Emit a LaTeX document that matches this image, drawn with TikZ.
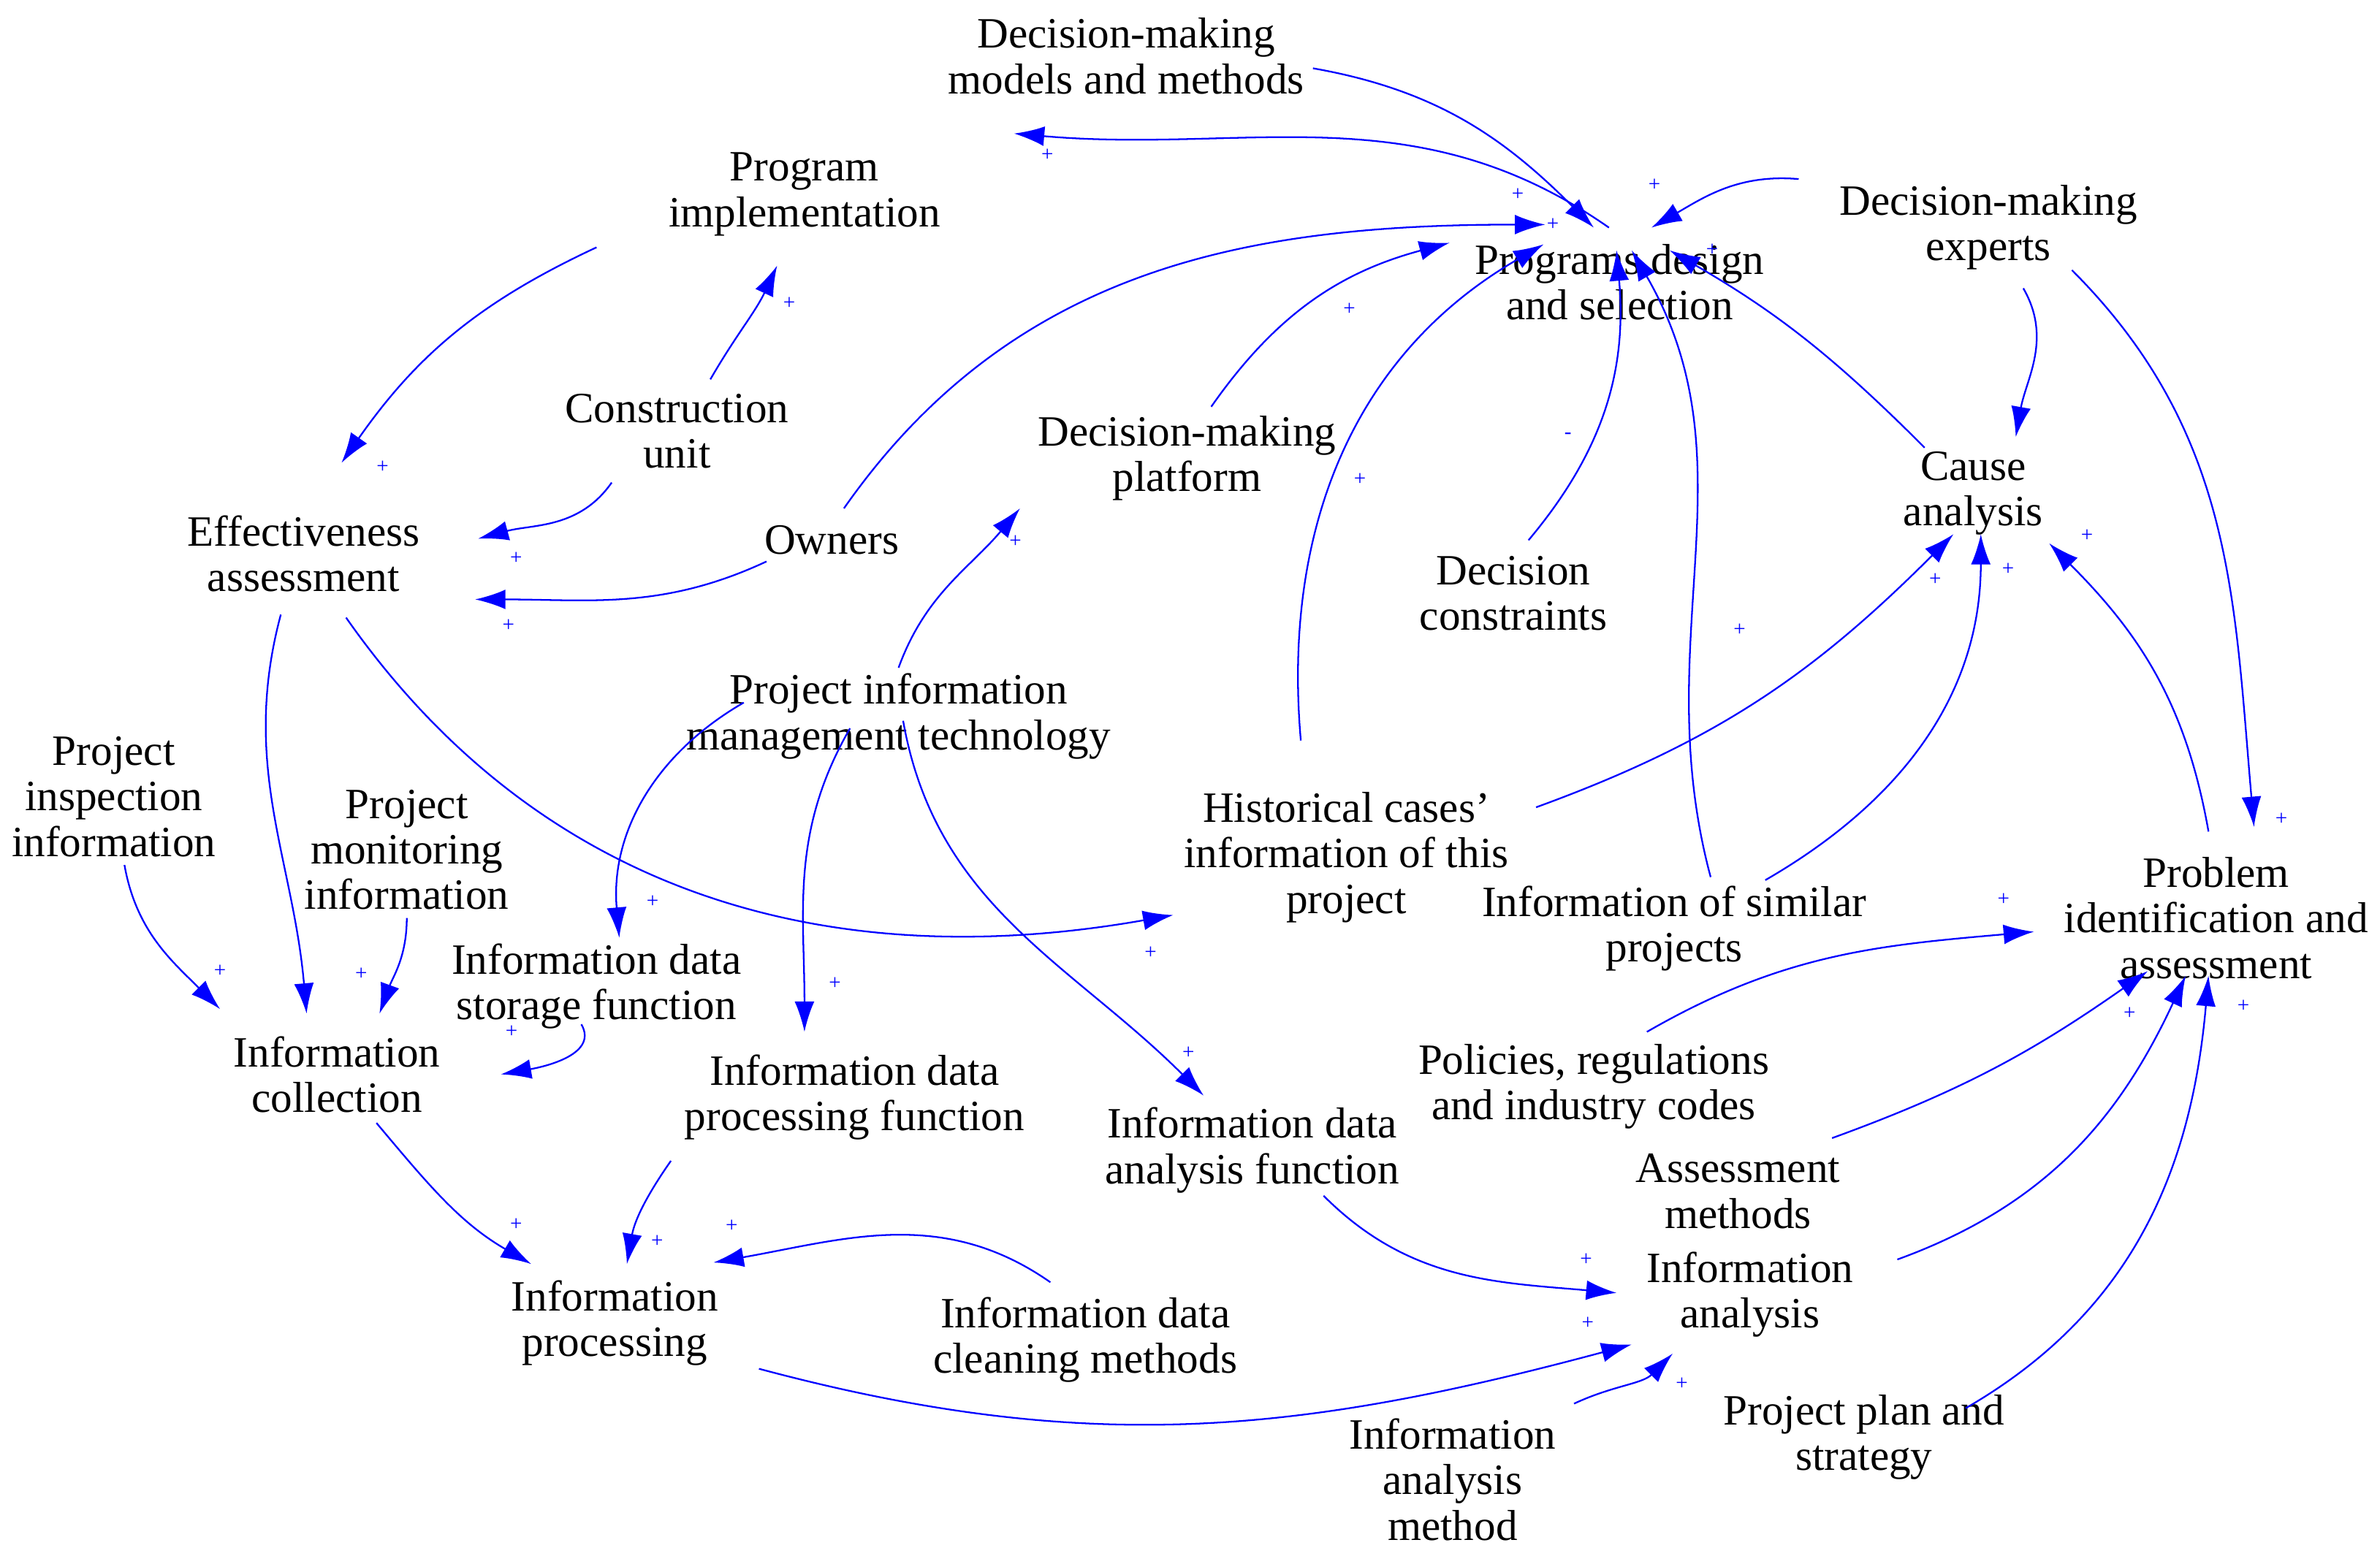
\documentclass[tikz,border=0pt]{standalone}
\usepackage{fontspec}
\setmainfont{Liberation Serif}
\usetikzlibrary{arrows.meta}
\definecolor{lb}{RGB}{0,0,255}
\newcommand{\ed}[6]{\draw[e] ([shift={#2}]#1.center) to[#3] ([shift={#5}]#4.center);}
\begin{document}
\begin{tikzpicture}[x=1pt,y=1pt,
  v/.style={align=center,inner sep=2pt,font=\fontsize{28.5}{30}\selectfont},
  e/.style={draw=lb,line width=1.1pt,-{Latex[length=20pt,width=13pt]}},
  plus/.style={text=lb,font=\fontsize{14}{14}\selectfont,inner sep=0pt}]
\useasboundingbox (0,0) rectangle (1568,-1020);
\node[v] (dmm) at (742,-37) {Decision-making\\models and methods};
\node[v] (pi) at (530,-128) {Program\\implementation};
\node[v] (pds) at (1067,-186) {Programs design\\and selection};
\node[v] (dme) at (1310,-150) {Decision-making\\experts};
\node[v] (cu) at (446,-284) {Construction\\unit};
\node[v] (dmp) at (782,-302) {Decision-making\\platform};
\node[v] (ea) at (200,-365) {Effectiveness\\assessment};
\node[v] (own) at (548,-356) {Owners};
\node[v] (ca) at (1300,-325) {Cause\\analysis};
\node[v] (dc) at (997,-391) {Decision\\constraints};
\node[v] (pimt) at (592,-472) {Project information\\management technology};
\node[v] (pii) at (75,-525) {Project\\inspection\\information};
\node[v] (pmi) at (268,-560) {Project\\monitoring\\information};
\node[v] (hc) at (887,-565) {Historical cases'\\information of this\\project};
\node[v] (isp) at (1103,-612) {Information of similar\\projects};
\node[v] (pia) at (1460,-605) {Problem\\identification and\\assessment};
\node[v] (ids) at (393,-650) {Information data\\storage function};
\node[v] (ic) at (222,-708) {Information\\collection};
\node[v] (idp) at (563,-723) {Information data\\processing function};
\node[v] (prc) at (1050,-716) {Policies, regulations\\and industry codes};
\node[v] (ida) at (825,-758) {Information data\\analysis function};
\node[v] (am) at (1145,-785) {Assessment\\methods};
\node[v] (ia) at (1153,-853) {Information\\analysis};
\node[v] (ip) at (405,-872) {Information\\processing};
\node[v] (idc) at (715,-883) {Information data\\cleaning methods};
\node[v] (iam) at (957,-975) {Information\\analysis\\method};
\node[v] (pps) at (1228,-947) {Project plan and\\strategy};

\ed{dmm}{(123,-8)}{out=-10,in=135}{pds}{(-17,36)}{}
\ed{pds}{(-7,36)}{out=145,in=-5}{dmm}{(-74,-51)}{}
\ed{dme}{(-125,32)}{out=175,in=30}{pds}{(21,36)}{}
\ed{pi}{(-137,-35)}{out=205,in=55}{ea}{(25,60)}{}
\ed{cu}{(22,34)}{out=60,in=-115}{pi}{(-18,-47)}{}
\ed{cu}{(-43,-34)}{out=-125,in=15}{ea}{(115,10)}{}
\ed{own}{(8,21)}{out=55,in=180}{pds}{(-49,38)}{}
\ed{own}{(-43,-14)}{out=-155,in=0}{ea}{(113,-30)}{}
\ed{dmp}{(16,34)}{out=55,in=195}{pds}{(-112,26)}{}
\ed{hc}{(-30,77)}{out=95,in=-150}{pds}{(-50,25)}{}
\ed{dc}{(10,35)}{out=50,in=-85}{pds}{(-2,21)}{}
\ed{isp}{(24,34)}{out=105,in=-60}{pds}{(8,21)}{}
\ed{ca}{(-32,30)}{out=135,in=-30}{pds}{(33,21)}{}
\ed{dme}{(23,-40)}{out=-60,in=80}{ca}{(28,37)}{}
\ed{dme}{(55,-28)}{out=-45,in=95}{pia}{(25,60)}{}
\ed{hc}{(125,33)}{out=20,in=-135}{ca}{(-13,-27)}{}
\ed{isp}{(60,32)}{out=30,in=-90}{ca}{(5,-27)}{}
\ed{pia}{(-5,57)}{out=100,in=-45}{ca}{(50,-33)}{}
\ed{ea}{(-15,-40)}{out=-105,in=95}{ic}{(-20,40)}{}
\ed{ea}{(28,-42)}{out=-55,in=190}{hc}{(-114,-38)}{}
\ed{pimt}{(0,32)}{out=70,in=-130}{dmp}{(-110,-33)}{}
\ed{pimt}{(-102,9)}{out=210,in=95}{ids}{(15,32)}{}
\ed{pimt}{(-32,-8)}{out=-120,in=90}{idp}{(-33,43)}{}
\ed{pimt}{(3,-3)}{out=-80,in=135}{ida}{(-32,36)}{}
\ed{pii}{(7,-45)}{out=-80,in=135}{ic}{(-77,43)}{}
\ed{pmi}{(0,-45)}{out=-90,in=70}{ic}{(28,40)}{}
\ed{ids}{(-10,-25)}{out=-60,in=10}{ic}{(108,0)}{}
\ed{ic}{(26,-32)}{out=-50,in=150}{ip}{(-55,39)}{}
\ed{idp}{(-121,-42)}{out=-125,in=80}{ip}{(8,39)}{}
\ed{idc}{(-23,38)}{out=145,in=10}{ip}{(65,40)}{}
\ed{ip}{(95,-30)}{out=-15,in=195}{ia}{(-78,-33)}{}
\ed{ida}{(47,-30)}{out=-45,in=175}{ia}{(-88,1)}{}
\ed{iam}{(80,50)}{out=25,in=-135}{ia}{(-51,-39)}{}
\ed{ia}{(97,23)}{out=20,in=-115}{pia}{(-20,-38)}{}
\ed{prc}{(35,36)}{out=30,in=185}{pia}{(-120,-9)}{}
\ed{am}{(62,35)}{out=20,in=-145}{pia}{(-45,-35)}{}
\ed{pps}{(67,19)}{out=30,in=-95}{pia}{(-5,-38)}{}

\foreach \x/\y in {690/102,1000/128,1023/148,1090/122,1128/165,252/308,520/200,340/368,335/412,889/204,896/316,1146/415,1503/540,1275/382,1323/375,1375/353,758/628,669/357,430/594,550/648,783/694,145/640,238/642,337/680,340/807,433/818,482/808,1046/872,1045/830,1108/912,1320/593,1403/668,1478/663}
  \node[plus] at (\x,-\y) {+};
\node[plus] at (1033,-287) {-};
\end{tikzpicture}
\end{document}
